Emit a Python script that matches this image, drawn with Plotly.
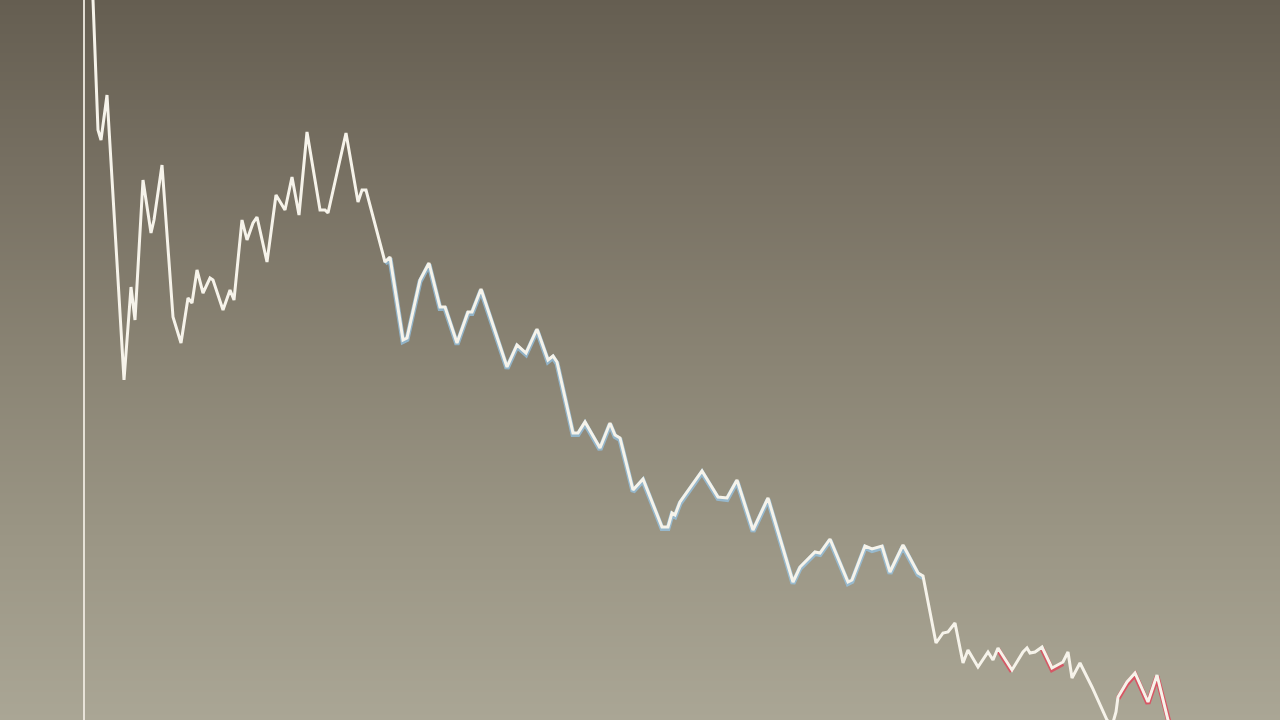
import plotly.graph_objects as go

# Series (x position, value where higher = up)
x_vals = [91, 93, 98, 101, 107, 124, 131, 135, 143, 151, 154, 162, 173, 181, 188, 192, 197, 203,
          210, 213, 223, 230, 234, 242, 247, 253, 257, 267, 276, 285, 292, 299, 307, 320, 325, 328,
          346, 358, 362, 366, 385, 390, 403, 407, 420, 429, 440, 445, 457, 468, 472, 481, 507, 517,
          526, 537, 548, 553, 557, 573, 578, 585, 600, 610, 615, 620, 633, 643, 662, 668, 672, 675,
          680, 685, 688, 702, 718, 727, 737, 753, 768, 793, 800, 807, 815, 820, 830, 848, 852, 865,
          872, 882, 890, 903, 918, 923, 936, 943, 948, 955, 963, 968, 978, 988, 993, 998, 1012, 1023,
          1027, 1030, 1035, 1042, 1052, 1063, 1068, 1072, 1080, 1092, 1107, 1112, 1116, 1118, 1127,
          1135, 1148, 1157, 1168, 1172]
y_pix = [-5, 0, 130, 140, 95, 380, 287, 320, 180, 233, 220, 165, 317, 343, 298, 303, 270, 293,
         278, 280, 310, 290, 300, 220, 240, 223, 217, 262, 195, 210, 177, 215, 132, 210, 210, 213,
         133, 202, 190, 190, 262, 257, 340, 338, 280, 263, 307, 307, 343, 312, 312, 289, 367, 345,
         353, 329, 360, 356, 362, 433, 433, 422, 448, 423, 435, 438, 490, 479, 527, 527, 513, 515,
         502, 495, 490, 471, 497, 498, 480, 530, 498, 582, 567, 560, 552, 553, 539, 582, 580, 546,
         549, 546, 572, 545, 573, 576, 643, 633, 632, 623, 663, 650, 667, 652, 660, 648, 670, 652,
         648, 653, 652, 647, 668, 662, 652, 678, 663, 687, 720, 726, 712, 697, 682,
         673, 702, 675, 720, 732]
values = [720 - v for v in y_pix]

# Background gradient stops (top -> bottom)
bg_levels = [0, 1, 2, 3, 4]
bg_colors = ["#655e51", "#787163", "#8a8474", "#9b9685", "#aaa695"]

fig = go.Figure()

# Gradient background as heatmap
fig.add_trace(go.Heatmap(
    x=[0, 1280], y=[720, 540, 360, 180, 0],
    z=[[l, l] for l in bg_levels],
    colorscale=[[i / (len(bg_colors) - 1), c] for i, c in enumerate(bg_colors)],
    zsmooth="best", showscale=False, hoverinfo="skip",
))

def seg(lo, hi):
    xs, ys = [], []
    for xv, yv in zip(x_vals, values):
        if lo <= xv <= hi:
            xs.append(xv); ys.append(yv)
    return xs, ys

# Coloured glow under parts of the line
for lo, hi, col in [(370, 930, "rgba(150,200,235,0.7)"),
                    (995, 1016, "rgba(225,70,90,0.8)"),
                    (1040, 1066, "rgba(225,70,90,0.8)"),
                    (1118, 1172, "rgba(225,70,90,0.85)")]:
    xs, ys = seg(lo, hi)
    fig.add_trace(go.Scatter(x=xs, y=[v - 1.5 for v in ys], mode="lines",
                             line=dict(color=col, width=5), hoverinfo="skip", showlegend=False))

fig.add_trace(go.Scatter(x=x_vals, y=values, mode="lines",
                         line=dict(color="#f6f3ea", width=3), showlegend=False))

fig.add_shape(type="line", x0=84, x1=84, y0=0, y1=720, xref="x", yref="y",
              line=dict(color="rgba(238,234,224,0.9)", width=2))

fig.update_layout(
    width=1280, height=720, margin=dict(l=0, r=0, t=0, b=0),
    paper_bgcolor="#8a8474", plot_bgcolor="#8a8474", showlegend=False,
    xaxis=dict(range=[0, 1280], visible=False, fixedrange=True),
    yaxis=dict(range=[0, 720], visible=False, fixedrange=True),
)

fig.write_html("out.html", config={"displayModeBar": False},
               post_script="document.body.style.margin='0';document.body.style.overflow='hidden';")
